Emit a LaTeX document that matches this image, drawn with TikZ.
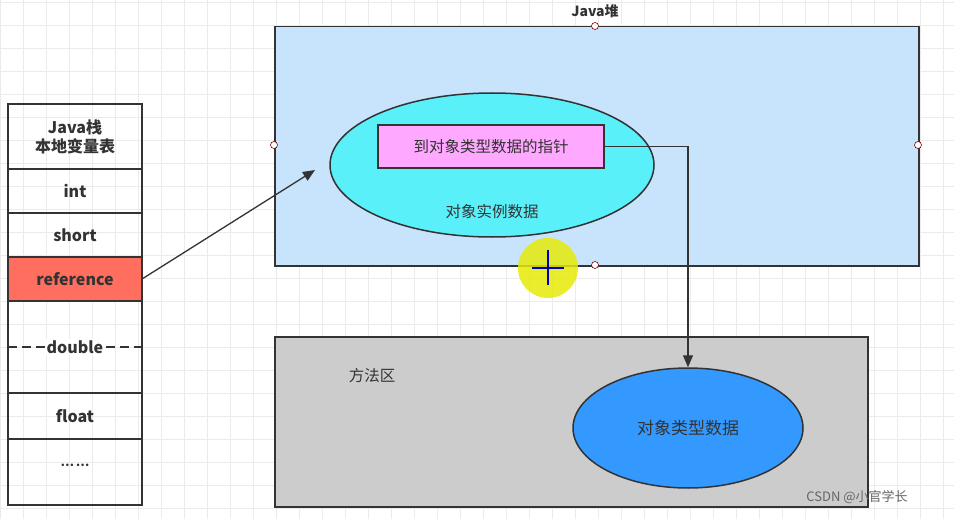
\documentclass[tikz,border=0pt]{standalone}
\usepackage{fontspec}
\setmainfont{Noto Sans CJK SC}
\usetikzlibrary{shapes.geometric,arrows.meta}
\definecolor{heap}{HTML}{C8E4FC}
\definecolor{cyanE}{HTML}{5AF0FA}
\definecolor{pinkR}{HTML}{FFA8FF}
\definecolor{methodG}{HTML}{CCCCCC}
\definecolor{blueE}{HTML}{3399FF}
\definecolor{refR}{HTML}{FF6E5E}
\definecolor{gridc}{HTML}{EBEBEB}
\tikzset{
  cell/.style={draw=black!80,line width=1.2pt,minimum width=134pt,inner sep=0pt,outer sep=0pt,font=\bfseries\fontsize{16}{19}\selectfont,text=black!80,align=center},
  region/.style={draw=black!80,line width=1.5pt},
  handle/.style={circle,draw=red!50!black,fill=white,inner sep=0pt,minimum size=7pt,line width=0.6pt},
  lbl/.style={font=\fontsize{15.5}{18}\selectfont,text=black!80},
  conn/.style={line width=1.3pt,draw=black!80,-{Triangle[length=12pt,width=10pt]}}
}
\begin{document}
\begin{tikzpicture}[x=1pt,y=-1pt]
\useasboundingbox (0,0) rectangle (954,519);
\fill[white] (0,0) rectangle (954,519);
\foreach \x in {0,23,...,954} \draw[gridc,line width=0.6pt] (\x,0) -- (\x,519);
\foreach \y in {2,25,...,519} \draw[gridc,line width=0.6pt] (0,\y) -- (954,\y);
% stack
\node[cell,minimum height=65pt,anchor=north west] (java) at (8,104) {Java栈\\本地变量表};
\node[cell,minimum height=44pt,anchor=north] (int) at (java.south) {int};
\node[cell,minimum height=44pt,anchor=north] (short) at (int.south) {short};
\node[cell,minimum height=44pt,anchor=north,fill=refR] (ref) at (short.south) {reference};
\node[cell,minimum height=92pt,anchor=north] (dbl) at (ref.south) {};
\node[cell,minimum height=46pt,anchor=north] (flt) at (dbl.south) {float};
\node[cell,minimum height=66pt,anchor=north] (dots) at (flt.south) {\raisebox{14pt}{\fontsize{12}{14}\selectfont …\,…}};
\draw[black!80,line width=1.2pt,dash pattern=on 9pt off 5pt] (dbl.west) -- (dbl.east);
\node[font=\bfseries\fontsize{16}{19}\selectfont,text=black!80,fill=white,inner sep=1pt] (dbltxt) at (dbl.center) {double};
% heap
\node[region,fill=heap,minimum width=644pt,minimum height=239pt,anchor=north west,inner sep=0pt] (heapR) at (274,26) {};
\node[lbl,font=\bfseries\fontsize{14}{16}\selectfont] (heapL) at (595,11) {Java堆};
\node[ellipse,draw=black!80,line width=1.5pt,fill=cyanE,minimum width=324pt,minimum height=144pt] (obj) at (492,165) {};
\node[draw=black!80,line width=1.3pt,fill=pinkR,minimum width=226pt,minimum height=43pt,lbl] (ptr) at (491,146.5) {到对象类型数据的指针};
\node[lbl] (objL) at (492,212) {对象实例数据};
\foreach \p in {(595,26),(274,145),(918,145),(595,265)} \node[handle] at \p {};
% method area
\node[region,fill=methodG,minimum width=593pt,minimum height=170pt,anchor=north west,inner sep=0pt] (meth) at (274,336) {};
\node[lbl] (methL) at (372,376) {方法区};
\node[ellipse,draw=black!80,line width=1.5pt,fill=blueE,minimum width=230pt,minimum height=120pt,lbl,font=\fontsize{17}{20}\selectfont] (cls) at (688,428) {对象类型数据};
% connectors
\coordinate (tip) at (315,170);
\draw[conn] (ref.east) -- (tip);
\draw[conn] (ptr.east) -| (cls.north);
% cursor highlight
\fill[yellow!90!green,opacity=0.85] (548,268) circle (30pt);
\draw[blue!70!black,line width=2pt] (548,250) -- (548,285) (532,268) -- (564,268);
\node[font=\fontsize{13}{15}\selectfont,text=black!60] (wm) at (857,497) {CSDN @小官学长};
\end{tikzpicture}
\end{document}
